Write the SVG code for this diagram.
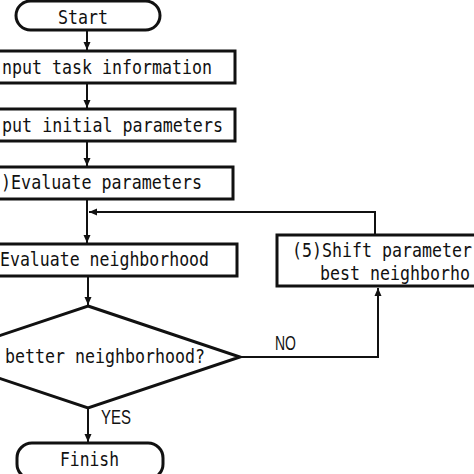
<svg xmlns="http://www.w3.org/2000/svg" width="474" height="474" viewBox="0 0 474 474">
<defs>
<style>
.box{fill:#fff;stroke:#111;stroke-width:3}
.t{font-family:"DejaVu Sans Mono","Liberation Mono",monospace;font-size:19px;fill:#111}
.lbl{font-family:"Liberation Sans",Arial,sans-serif;font-size:20px;fill:#111}
.c{fill:none;stroke:#111;stroke-width:2}
</style>
<marker id="ah" viewBox="0 0 8 12" refX="8" refY="6" markerWidth="8" markerHeight="12" markerUnits="userSpaceOnUse" orient="auto">
<path d="M0,2.5 L8,6 L0,9.5 Z" fill="#111"/>
</marker>
</defs>
<rect width="474" height="474" fill="#fff"/>
<g id="connectors">
<line class="c" x1="87" y1="30" x2="87" y2="50" marker-end="url(#ah)"/>
<line class="c" x1="87" y1="84" x2="87" y2="108" marker-end="url(#ah)"/>
<line class="c" x1="87" y1="142" x2="87" y2="166" marker-end="url(#ah)"/>
<line class="c" x1="87" y1="200" x2="87" y2="243" marker-end="url(#ah)"/>
<polyline class="c" points="375,235 375,212 89,212" marker-end="url(#ah)"/>
<line class="c" x1="88" y1="277" x2="88" y2="305" marker-end="url(#ah)"/>
<line class="c" x1="88" y1="408" x2="88" y2="442" marker-end="url(#ah)"/>
<polyline class="c" points="240,357 378,357 378,288" marker-end="url(#ah)"/>
<text class="lbl" x="275" y="350" textLength="21" lengthAdjust="spacingAndGlyphs">NO</text>
<text class="lbl" x="101" y="424" textLength="30" lengthAdjust="spacingAndGlyphs">YES</text>
</g>
<g id="start">
<rect class="box" x="16" y="1" width="144" height="29" rx="14.5"/>
<text class="t" x="58" y="24" textLength="50" lengthAdjust="spacingAndGlyphs">Start</text>
</g>
<g id="input-task">
<rect class="box" x="-10" y="51" width="245" height="32"/>
<text class="t" x="2" y="74" textLength="210" lengthAdjust="spacingAndGlyphs">nput task information</text>
</g>
<g id="input-params">
<rect class="box" x="-10" y="109" width="245" height="32"/>
<text class="t" x="2" y="132" textLength="221" lengthAdjust="spacingAndGlyphs">put initial parameters</text>
</g>
<g id="evaluate-params">
<rect class="box" x="-10" y="167" width="243" height="32"/>
<text class="t" x="1" y="189" textLength="201" lengthAdjust="spacingAndGlyphs">)Evaluate parameters</text>
</g>
<g id="evaluate-neighborhood">
<rect class="box" x="-10" y="244" width="247" height="32"/>
<text class="t" x="0" y="266" textLength="209" lengthAdjust="spacingAndGlyphs">Evaluate neighborhood</text>
</g>
<g id="decision">
<polygon class="box" points="88,306 240,357 88,408 -64,357"/>
<text class="t" x="5" y="363" textLength="200" lengthAdjust="spacingAndGlyphs">better neighborhood?</text>
</g>
<g id="shift">
<rect class="box" x="277" y="235" width="210" height="51"/>
<text class="t" x="292" y="257" textLength="180" lengthAdjust="spacingAndGlyphs">(5)Shift parameter</text>
<text class="t" x="320" y="280" textLength="150" lengthAdjust="spacingAndGlyphs">best neighborho</text>
</g>
<g id="finish">
<rect class="box" x="17" y="443" width="146" height="36" rx="15"/>
<text class="t" x="60" y="466" textLength="59" lengthAdjust="spacingAndGlyphs">Finish</text>
</g>
</svg>
